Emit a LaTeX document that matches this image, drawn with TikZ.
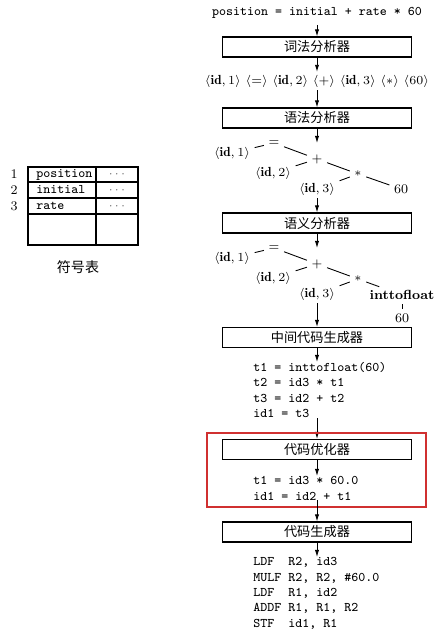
\documentclass[tikz,border=0pt]{standalone}
\usepackage{fontspec}
\newfontfamily\cjk{Noto Sans CJK SC}
\usetikzlibrary{arrows.meta}
\definecolor{rossoevid}{RGB}{208,48,48}

\tikzset{
  fase/.style={draw, line width=0.6pt, minimum width=3.78cm, minimum height=0.4cm,
    inner sep=0pt, font=\cjk\fontsize{7.5}{9}\selectfont},
  freccia/.style={-{Latex[length=4pt,width=2.4pt]}, line width=0.5pt},
  codice/.style={font=\ttfamily\fontsize{7.5}{8.8}\selectfont, align=left,
    inner sep=0pt, anchor=north west},
  albero/.style={font=\fontsize{7.5}{9}\selectfont, inner sep=1.5pt},
  ramo/.style={line width=0.5pt, shorten <=1pt, shorten >=1pt},
}

\begin{document}
\begin{tikzpicture}[x=0.02cm, y=-0.02cm]

    \useasboundingbox (0,0) rectangle (445,640);

    % Istruzione sorgente e analisi lessicale
    \node[font=\ttfamily\fontsize{7.5}{9}\selectfont] (src) at (317,13) {position = initial + rate * 60};
    \node[fase] (lex) at (317,47) {词法分析器};
    \node[albero] (tok) at (317,81)
      {$\langle\mathbf{id},1\rangle\ \langle=\rangle\ \langle\mathbf{id},2\rangle\ \langle+\rangle\ \langle\mathbf{id},3\rangle\ \langle*\rangle\ \langle60\rangle$};
    \draw[freccia] (src) -- (lex);
    \draw[freccia] (lex) -- (tok);

    % Analisi sintattica
    \node[fase] (parse) at (317,118) {语法分析器};
    \draw[freccia] (tok) -- (parse);
    \coordinate (cima1) at (317,143);
    \draw[freccia] (parse) -- (cima1);

    % Albero sintattico
    \node[albero] (eqA) at (274,143) {$=$};
    \node[albero] (idA1) at (232,153) {$\langle\mathbf{id},1\rangle$};
    \node[albero] (plusA) at (317,159) {$+$};
    \node[albero] (idA2) at (273,173) {$\langle\mathbf{id},2\rangle$};
    \node[albero] (starA) at (358,174) {$*$};
    \node[albero] (idA3) at (317,189) {$\langle\mathbf{id},3\rangle$};
    \node[albero] (numA) at (401,189) {60};
    \draw[ramo] (eqA) -- (idA1);
    \draw[ramo] (eqA) -- (plusA);
    \draw[ramo] (plusA) -- (idA2);
    \draw[ramo] (plusA) -- (starA);
    \draw[ramo] (starA) -- (idA3);
    \draw[ramo] (starA) -- (numA);

    % Analisi semantica
    \node[fase] (sem) at (317,223) {语义分析器};
    \draw[freccia] (idA3) -- (sem);
    \coordinate (cima2) at (317,248);
    \draw[freccia] (sem) -- (cima2);

    % Albero con conversione
    \node[albero] (eqB) at (274,248) {$=$};
    \node[albero] (idB1) at (232,258) {$\langle\mathbf{id},1\rangle$};
    \node[albero] (plusB) at (317,264) {$+$};
    \node[albero] (idB2) at (273,278) {$\langle\mathbf{id},2\rangle$};
    \node[albero] (starB) at (358,279) {$*$};
    \node[albero] (idB3) at (317,294) {$\langle\mathbf{id},3\rangle$};
    \node[albero] (conv) at (402,295) {\textbf{inttofloat}};
    \node[albero] (numB) at (402,318) {60};
    \draw[ramo] (eqB) -- (idB1);
    \draw[ramo] (eqB) -- (plusB);
    \draw[ramo] (plusB) -- (idB2);
    \draw[ramo] (plusB) -- (starB);
    \draw[ramo] (starB) -- (idB3);
    \draw[ramo] (starB) -- (conv);
    \draw[ramo] (conv) -- (numB);

    % Generazione del codice intermedio
    \node[fase] (ir) at (317,337.5) {中间代码生成器};
    \draw[freccia] (idB3) -- (ir);
    \node[codice] (cod1) at (253,362)
      {t1 = inttofloat(60)\\t2 = id3 * t1\\t3 = id2 + t2\\id1 = t3};
    \draw[freccia] (ir.south) -- (ir.south |- cod1.north);

    % Ottimizzazione (evidenziata in rosso)
    \node[fase] (opt) at (317,449.5) {代码优化器};
    \draw[freccia] (opt.north |- cod1.south) -- (opt.north);
    \node[codice] (cod2) at (253,476) {t1 = id3 * 60.0\\id1 = id2 + t1};
    \draw[freccia] (opt.south) -- (opt.south |- cod2.north);
    \draw[rossoevid, line width=1.6pt] (207,433) rectangle (426,507);

    % Generazione del codice finale
    \node[fase] (gen) at (317,532) {代码生成器};
    \draw[freccia] (gen.north |- cod2.south) -- (gen.north);
    \node[codice] (cod3) at (253,557)
      {LDF\ \ R2, id3\\MULF R2, R2, \#60.0\\LDF\ \ R1, id2\\ADDF R1, R1, R2\\STF\ \ id1, R1};
    \draw[freccia] (gen.south) -- (gen.south |- cod3.north);

    % Tabella dei simboli
    \draw[line width=0.6pt] (28,167) rectangle (138,245);
    \draw[line width=0.6pt] (28,182) -- (138,182);
    \draw[line width=0.6pt] (28,198) -- (138,198);
    \draw[line width=0.6pt] (28,214) -- (138,214);
    \draw[line width=0.6pt] (96,167) -- (96,245);
    \foreach \i/\nome/\y in {1/position/174.5, 2/initial/190, 3/rate/206} {
      \node[albero] (num\i) at (14,\y) {\i};
      \node[codice, anchor=west] (nome\i) at (36,\y) {\nome};
      \node[albero, font=\tiny] (val\i) at (117,\y) {$\cdots$};
    }
    \node[font=\cjk\fontsize{8}{10}\selectfont] (tab) at (78,267) {符号表};

\end{tikzpicture}
\end{document}
